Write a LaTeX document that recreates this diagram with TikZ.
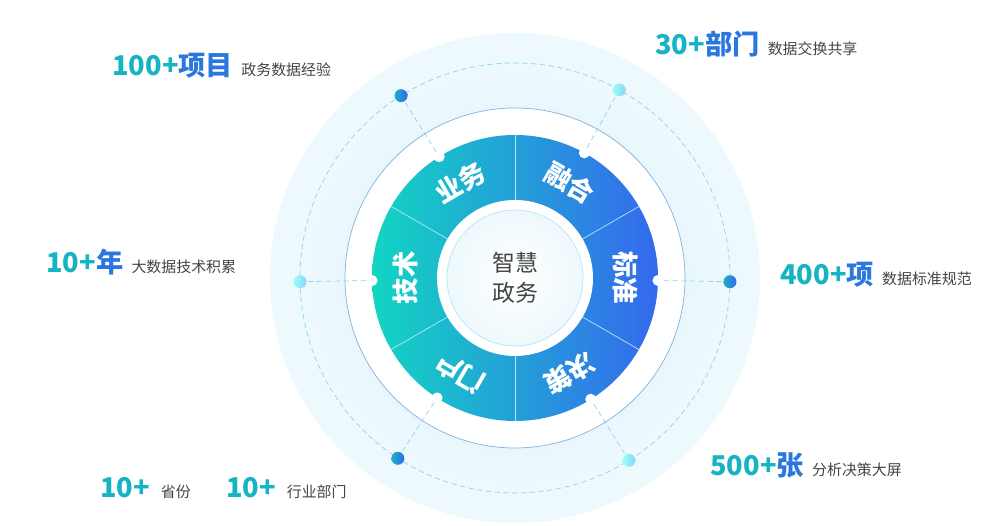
\documentclass[tikz,border=0pt]{standalone}
\usepackage{fontspec}
\setmainfont{Noto Sans CJK SC}
\usetikzlibrary{positioning,calc}
\definecolor{ringgreen}{HTML}{12D6C2}
\definecolor{ringblue}{HTML}{3568EE}
\definecolor{numteal}{HTML}{16B3C4}
\definecolor{numblue}{HTML}{2A78DE}
\definecolor{halo}{HTML}{EEF9FD}
\definecolor{halodeep}{HTML}{D6F0FA}
\definecolor{dashblue}{HTML}{8FD3F0}
\definecolor{greytext}{HTML}{444444}
\tikzset{
  bignum/.style={font=\fontsize{15.5}{15.5}\bfseries\selectfont, inner sep=0pt, anchor=base west},
  smalltext/.style={font=\fontsize{8.5}{8.5}\selectfont, text=greytext, inner sep=0pt, anchor=base west},
  seglabel/.style={font=\fontsize{15}{15}\bfseries\selectfont, text=white},
  link/.style={dashblue, densely dashed, thin},
  outerdot/.style={circle, inner sep=0pt, minimum size=2.6mm, left color=numteal, right color=ringblue},
  outerdotlight/.style={circle, inner sep=0pt, minimum size=2.6mm, left color=white!60!cyan, right color=dashblue},
  innerdot/.style={circle, fill=white, inner sep=0pt, minimum size=2.2mm},
}
\begin{document}
\begin{tikzpicture}
\useasboundingbox (0,0) rectangle (20,10.52);
\coordinate (c) at (10.3,4.96);

% halo and rings
\begin{scope}
\clip (0,0) rectangle (20,10.52);
\fill[halo] (c) circle (4.9);
\shade[inner color=halodeep, outer color=halo] (c) circle (4.3);
\end{scope}
\draw[link] (c) circle (4.3);
\fill[white] (c) circle (3.4);
\draw[cyan!60!blue!50, thin] (c) circle (3.4);
\begin{scope}
\clip (c) circle (2.86);
\shade[left color=ringgreen, right color=ringblue] ($(c)+(-2.9,-2.9)$) rectangle ($(c)+(2.9,2.9)$);
\end{scope}
\foreach \a in {90,30,-30,-90,-150,150}
  \draw[white!70!cyan, thin] ($(c)+(\a:1.56)$) -- ($(c)+(\a:2.86)$);
\fill[white] (c) circle (1.56);
\shade[inner color=white, outer color=halo] (c) circle (1.36);
\draw[cyan!30, thin] (c) circle (1.36);
\node[font=\fontsize{13}{17}\selectfont, text=greytext, align=center] (center) at (c) {智慧\\政务};

% segment labels
\foreach \a/\t in {120/业务, 60/融合, 0/标准, -60/决策, -120/门户, 180/技术}
  \node[seglabel, rotate=\a-90] at ($(c)+(\a:2.2)$) {\t};

% dots and links
\foreach \a/\n/\s in {122/a/outerdot, 61/b/outerdotlight, 181/c/outerdotlight, -1/d/outerdot, -123/e/outerdot, -58/f/outerdotlight} {
  \node[innerdot] (in\n) at ($(c)+(\a:2.86)$) {};
  \node[\s] (out\n) at ($(c)+(\a:4.3)$) {};
  \draw[link] (in\n) -- (out\n);
}

% labels
\node[bignum] (l1) at (2.24,9.0) {\textcolor{numteal}{100+}\textcolor{numblue}{项目}};
\node[smalltext, right=1.5mm of l1.base east, anchor=base west] {政务数据经验};
\node[bignum] (l2) at (13.1,9.42) {\textcolor{numteal}{30+}\textcolor{numblue}{部门}};
\node[smalltext, right=1.5mm of l2.base east, anchor=base west] {数据交换共享};
\node[bignum] (l3) at (0.92,5.06) {\textcolor{numteal}{10+}\textcolor{numblue}{年}};
\node[smalltext, right=1.5mm of l3.base east, anchor=base west] {大数据技术积累};
\node[bignum] (l4) at (15.6,4.82) {\textcolor{numteal}{400+}\textcolor{numblue}{项}};
\node[smalltext, right=1.5mm of l4.base east, anchor=base west] {数据标准规范};
\node[bignum] (l5) at (14.2,1.0) {\textcolor{numteal}{500+}\textcolor{numblue}{张}};
\node[smalltext, right=1.5mm of l5.base east, anchor=base west] {分析决策大屏};
\node[bignum] (l6) at (2.0,0.56) {\textcolor{numteal}{10+}};
\node[smalltext, right=2mm of l6.base east, anchor=base west] (l6t) {省份};
\node[bignum, right=7mm of l6t.base east, anchor=base west] (l7) {\textcolor{numteal}{10+}};
\node[smalltext, right=2mm of l7.base east, anchor=base west] {行业部门};
\end{tikzpicture}
\end{document}
